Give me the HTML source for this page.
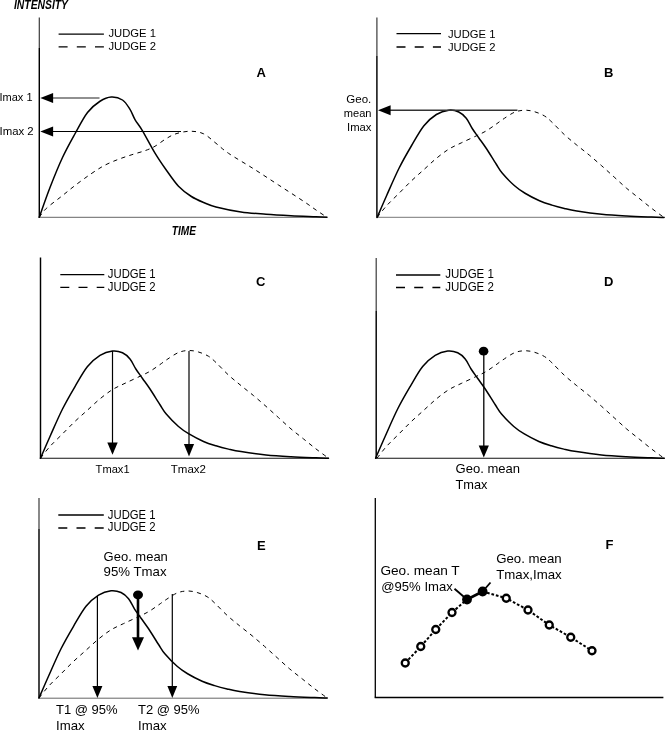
<!DOCTYPE html>
<html><head><meta charset="utf-8"><title>Figure</title>
<style>
html,body{margin:0;padding:0;background:#fff;}
body{width:665px;height:730px;overflow:hidden;}
svg{display:block;}
.t{font-family:"Liberation Sans",sans-serif;font-size:11.8px;fill:#000;}
.u{font-family:"Liberation Sans",sans-serif;font-size:13px;fill:#000;}
.b{font-family:"Liberation Sans",sans-serif;font-size:13px;font-weight:bold;fill:#000;}
.bi{font-family:"Liberation Sans",sans-serif;font-size:12.5px;font-weight:bold;font-style:italic;fill:#000;}
.ax{stroke:#111;stroke-width:1.3;fill:none;}
.lg{stroke:#000;stroke-width:1.3;fill:none;}
.sc{stroke:#000;stroke-width:1.5;fill:none;stroke-linecap:round;stroke-linejoin:round;}
.dc{stroke:#000;stroke-width:1.0;fill:none;stroke-dasharray:4.2 4.3;}
.fd{stroke:#000;stroke-width:2;fill:none;stroke-dasharray:2.7 1.9;}
.oc{stroke:#000;stroke-width:2.3;fill:#fff;}
</style></head><body>
<svg width="665" height="730" viewBox="0 0 665 730">
<rect width="665" height="730" fill="#fff"/>
<text x="14" y="9" class="bi" textLength="54" lengthAdjust="spacingAndGlyphs">INTENSITY</text>
<path d="M39.3 17.4 V48" stroke="#3a3a3a" stroke-width="1.2" fill="none"/>
<path d="M39.3 48 V217.3" stroke="#000" stroke-width="1.45" fill="none"/>
<path d="M38.574999999999996 217.3 H327" stroke="#666" stroke-width="1.0" fill="none"/>
<path d="M58.6 34.2 H103.9" class="lg"/>
<path d="M58.6 46.8 H103.9" class="lg" stroke-dasharray="9 9.2"/>
<text x="108.4" y="37.2" class="t" style="font-size:11.8px" textLength="47.6" lengthAdjust="spacingAndGlyphs">JUDGE 1</text>
<text x="108.4" y="50.3" class="t" style="font-size:11.8px" textLength="47.6" lengthAdjust="spacingAndGlyphs">JUDGE 2</text>
<path d="M39.25 217.30 C41.04 212.33 46.12 197.47 50.00 187.50 C53.88 177.53 58.33 166.46 62.50 157.50 C66.67 148.54 70.83 141.25 75.00 133.75 C79.17 126.25 83.33 117.92 87.50 112.50 C91.67 107.08 96.04 103.83 100.00 101.25 C103.96 98.67 107.50 97.21 111.25 97.00 C115.00 96.79 119.38 97.93 122.50 100.00 C125.62 102.07 127.92 106.13 130.00 109.40 C132.08 112.67 132.92 116.03 135.00 119.60 C137.08 123.17 139.17 125.22 142.50 130.80 C145.83 136.38 151.04 146.57 155.00 153.10 C158.96 159.63 162.33 164.47 166.25 170.00 C170.17 175.53 174.38 181.88 178.50 186.25 C182.62 190.62 186.83 193.54 191.00 196.25 C195.17 198.96 199.33 200.71 203.50 202.50 C207.67 204.29 209.75 205.42 216.00 207.00 C222.25 208.58 232.67 210.79 241.00 212.00 C249.33 213.21 257.67 213.62 266.00 214.25 C274.33 214.88 282.67 215.32 291.00 215.75 C299.33 216.18 310.00 216.54 316.00 216.80 C322.00 217.06 325.17 217.22 327.00 217.30" class="sc"/>
<path d="M39.25 217.30 C40.42 215.82 42.56 211.92 46.30 208.40 C50.04 204.88 56.85 200.07 61.70 196.20 C66.55 192.33 70.55 188.90 75.40 185.20 C80.25 181.50 85.95 177.30 90.80 174.00 C95.65 170.70 99.93 167.83 104.50 165.40 C109.07 162.97 113.63 161.18 118.20 159.40 C122.77 157.62 127.35 156.18 131.90 154.70 C136.45 153.22 141.65 151.91 145.50 150.50 C149.35 149.09 151.58 148.21 155.00 146.25 C158.42 144.29 162.50 140.83 166.00 138.75 C169.50 136.67 172.00 135.00 176.00 133.75 C180.00 132.50 185.42 131.25 190.00 131.25 C194.58 131.25 199.17 131.74 203.50 133.75 C207.83 135.76 211.83 140.04 216.00 143.30 C220.17 146.56 222.25 149.06 228.50 153.30 C234.75 157.54 245.17 163.47 253.50 168.75 C261.83 174.03 270.17 179.58 278.50 185.00 C286.83 190.42 297.25 197.08 303.50 201.25 C309.75 205.42 312.08 207.32 316.00 210.00 C319.92 212.68 325.17 216.08 327.00 217.30" class="dc"/>
<path d="M99.5 98 H52.099999999999994" stroke="#222" stroke-width="1.1" fill="none"/>
<path d="M53.099999999999994 92.9 V103.1 L40.3 98 Z" fill="#000"/>
<path d="M181 131.5 H52.099999999999994" stroke="#000" stroke-width="1.1" fill="none"/>
<path d="M53.099999999999994 126.4 V136.6 L40.3 131.5 Z" fill="#000"/>
<text x="-0.5" y="101.3" class="t" textLength="33" lengthAdjust="spacingAndGlyphs">Imax 1</text>
<text x="-0.5" y="135.3" class="t" textLength="34.2" lengthAdjust="spacingAndGlyphs">Imax 2</text>
<text x="256.5" y="76.8" class="b">A</text>
<text x="171.8" y="234.8" class="bi" textLength="24.2" lengthAdjust="spacingAndGlyphs">TIME</text>
<path d="M376.9 17.5 V56" stroke="#3a3a3a" stroke-width="1.2" fill="none"/>
<path d="M376.9 56 V217.3" stroke="#000" stroke-width="1.45" fill="none"/>
<path d="M376.17499999999995 217.3 H665" stroke="#777" stroke-width="1.0" fill="none"/>
<path d="M396.5 33.7 H441" class="lg"/>
<path d="M396.5 47 H441" class="lg" stroke-dasharray="9 9.2"/>
<text x="448" y="37.5" class="t" style="font-size:11.8px" textLength="47.5" lengthAdjust="spacingAndGlyphs">JUDGE 1</text>
<text x="448" y="50.6" class="t" style="font-size:11.8px" textLength="47.5" lengthAdjust="spacingAndGlyphs">JUDGE 2</text>
<path d="M377.10 217.50 C378.68 213.88 382.91 203.96 386.56 195.75 C390.22 187.54 394.87 176.58 399.02 168.25 C403.17 159.92 407.32 152.83 411.47 145.75 C415.62 138.67 419.77 130.96 423.92 125.75 C428.07 120.54 432.22 117.09 436.37 114.50 C440.52 111.91 445.09 110.62 448.83 110.20 C452.56 109.78 455.88 110.66 458.79 112.00 C461.69 113.34 464.02 115.50 466.26 118.25 C468.50 121.00 470.16 125.26 472.24 128.50 C474.31 131.74 476.39 134.41 478.71 137.70 C481.03 140.99 483.28 143.87 486.18 148.25 C489.09 152.63 493.45 159.83 496.14 164.00 C498.84 168.17 499.30 169.62 502.37 173.25 C505.44 176.88 510.80 182.42 514.57 185.75 C518.35 189.08 520.88 190.75 525.03 193.25 C529.18 195.75 534.99 198.78 539.48 200.75 C543.96 202.72 547.78 203.83 551.93 205.10 C556.08 206.38 560.23 207.43 564.38 208.40 C568.53 209.37 570.61 209.93 576.83 210.90 C583.06 211.87 593.44 213.35 601.74 214.20 C610.04 215.05 618.34 215.52 626.64 216.00 C634.94 216.48 645.32 216.85 651.55 217.10 C657.77 217.35 661.92 217.43 664.00 217.50" class="sc"/>
<path d="M377.10 217.50 C378.68 215.55 382.91 209.81 386.56 205.77 C390.22 201.74 394.87 197.45 399.02 193.30 C403.17 189.14 407.32 184.77 411.47 180.82 C415.62 176.87 419.77 173.33 423.92 169.59 C428.07 165.85 432.22 161.77 436.37 158.36 C440.52 154.95 444.67 151.71 448.83 149.13 C452.98 146.55 456.71 145.09 461.28 142.89 C465.84 140.68 472.07 137.90 476.22 135.90 C480.37 133.91 482.86 132.87 486.18 130.91 C489.50 128.96 493.45 126.05 496.14 124.17 C498.84 122.30 499.30 121.68 502.37 119.68 C505.44 117.69 510.80 113.78 514.57 112.20 C518.35 110.62 521.71 110.28 525.03 110.20 C528.35 110.12 531.26 110.74 534.50 111.70 C537.73 112.65 541.55 114.19 544.46 115.94 C547.36 117.69 548.61 119.06 551.93 122.18 C555.25 125.30 560.23 130.83 564.38 134.65 C568.53 138.48 572.68 141.72 576.83 145.13 C580.98 148.55 585.14 151.66 589.29 155.12 C593.44 158.57 597.59 162.19 601.74 165.85 C605.89 169.51 610.04 173.33 614.19 177.08 C618.34 180.82 622.49 184.77 626.64 188.30 C630.79 191.84 634.94 194.96 639.10 198.29 C643.25 201.61 647.40 205.06 651.55 208.27 C655.70 211.47 661.92 215.96 664.00 217.50" class="dc"/>
<path d="M517.5 110.25 H389.6" stroke="#333" stroke-width="1.3" fill="none"/>
<path d="M390.6 105.25 V115.25 L378 110.25 Z" fill="#000"/>
<text x="346.3" y="103" class="t" textLength="25" lengthAdjust="spacingAndGlyphs">Geo.</text>
<text x="343.75" y="117" class="t" textLength="27.75" lengthAdjust="spacingAndGlyphs">mean</text>
<text x="347" y="131" class="t" textLength="24.5" lengthAdjust="spacingAndGlyphs">Imax</text>
<text x="604" y="76.7" class="b">B</text>
<path d="M40.5 257.5 V458.3" stroke="#000" stroke-width="1.45" fill="none"/>
<path d="M39.775 458.3 H328.9" stroke="#111" stroke-width="1.1" fill="none"/>
<path d="M60.3 274.7 H104.3" class="lg"/>
<path d="M60.3 287.3 H104.3" class="lg" stroke-dasharray="9 9.2"/>
<text x="107.8" y="278.3" class="t" style="font-size:12px" textLength="47.8" lengthAdjust="spacingAndGlyphs">JUDGE 1</text>
<text x="107.8" y="290.8" class="t" style="font-size:12px" textLength="47.8" lengthAdjust="spacingAndGlyphs">JUDGE 2</text>
<path d="M40.50 458.20 C42.08 454.58 46.33 444.67 50.00 436.47 C53.67 428.27 58.33 417.32 62.50 409.00 C66.67 400.67 70.83 393.59 75.00 386.52 C79.17 379.44 83.33 371.74 87.50 366.54 C91.67 361.33 95.83 357.89 100.00 355.30 C104.17 352.71 108.75 351.42 112.50 351.00 C116.25 350.58 119.58 351.46 122.50 352.80 C125.42 354.14 127.75 356.30 130.00 359.04 C132.25 361.79 133.92 366.04 136.00 369.28 C138.08 372.52 140.17 375.19 142.50 378.47 C144.83 381.76 147.08 384.64 150.00 389.01 C152.92 393.39 157.29 400.59 160.00 404.75 C162.71 408.91 163.17 410.37 166.25 413.99 C169.33 417.61 174.71 423.15 178.50 426.48 C182.29 429.81 184.83 431.47 189.00 433.97 C193.17 436.47 199.00 439.49 203.50 441.47 C208.00 443.44 211.83 444.54 216.00 445.81 C220.17 447.09 224.33 448.14 228.50 449.11 C232.67 450.07 234.75 450.64 241.00 451.61 C247.25 452.57 257.67 454.05 266.00 454.90 C274.33 455.75 282.67 456.22 291.00 456.70 C299.33 457.18 309.75 457.55 316.00 457.80 C322.25 458.05 326.42 458.13 328.50 458.20" class="sc"/>
<path d="M40.50 458.20 C42.08 456.24 46.33 450.48 50.00 446.43 C53.67 442.38 58.33 438.08 62.50 433.90 C66.67 429.73 70.83 425.35 75.00 421.38 C79.17 417.42 83.33 413.87 87.50 410.11 C91.67 406.35 95.83 402.26 100.00 398.84 C104.17 395.42 108.33 392.16 112.50 389.57 C116.67 386.98 120.42 385.52 125.00 383.31 C129.58 381.10 135.83 378.30 140.00 376.30 C144.17 374.29 146.67 373.25 150.00 371.29 C153.33 369.33 157.29 366.40 160.00 364.53 C162.71 362.65 163.17 362.02 166.25 360.02 C169.33 358.01 174.71 354.09 178.50 352.50 C182.29 350.92 185.67 350.58 189.00 350.50 C192.33 350.42 195.25 351.04 198.50 352.00 C201.75 352.96 205.58 354.51 208.50 356.26 C211.42 358.01 212.67 359.39 216.00 362.52 C219.33 365.65 224.33 371.21 228.50 375.05 C232.67 378.89 236.83 382.14 241.00 385.57 C245.17 388.99 249.33 392.12 253.50 395.58 C257.67 399.05 261.83 402.68 266.00 406.35 C270.17 410.03 274.33 413.87 278.50 417.62 C282.67 421.38 286.83 425.35 291.00 428.90 C295.17 432.44 299.33 435.57 303.50 438.91 C307.67 442.25 311.83 445.72 316.00 448.93 C320.17 452.15 326.42 456.66 328.50 458.20" class="dc"/>
<path d="M112.5 351 V443.40000000000003" stroke="#000" stroke-width="1.2" fill="none"/>
<path d="M107.3 442.40000000000003 H117.7 L112.5 454.8 Z" fill="#000"/>
<path d="M189 351 V445.0" stroke="#000" stroke-width="1.2" fill="none"/>
<path d="M183.9 444.0 H194.1 L189 456.4 Z" fill="#000"/>
<text x="95.6" y="472.7" class="t" textLength="34" lengthAdjust="spacingAndGlyphs">Tmax1</text>
<text x="170.8" y="472.7" class="t" textLength="35.2" lengthAdjust="spacingAndGlyphs">Tmax2</text>
<text x="256" y="286" class="b">C</text>
<path d="M376.2 258 V311" stroke="#3a3a3a" stroke-width="1.2" fill="none"/>
<path d="M376.2 311 V458.3" stroke="#000" stroke-width="1.45" fill="none"/>
<path d="M375.47499999999997 458.3 H665" stroke="#111" stroke-width="1.1" fill="none"/>
<path d="M396 275 H440.3" class="lg"/>
<path d="M396 287.5 H440.3" class="lg" stroke-dasharray="9 9.2"/>
<text x="445.3" y="278.4" class="t" style="font-size:12.4px" textLength="48.6" lengthAdjust="spacingAndGlyphs">JUDGE 1</text>
<text x="445.3" y="290.9" class="t" style="font-size:12.4px" textLength="48.6" lengthAdjust="spacingAndGlyphs">JUDGE 2</text>
<path d="M375.60 458.20 C377.19 454.58 381.44 444.67 385.11 436.47 C388.78 428.27 393.46 417.32 397.63 409.00 C401.80 400.67 405.98 393.59 410.15 386.52 C414.32 379.44 418.49 371.74 422.67 366.54 C426.84 361.33 431.01 357.89 435.18 355.30 C439.36 352.71 443.94 351.42 447.70 351.00 C451.46 350.58 454.79 351.46 457.71 352.80 C460.63 354.14 462.97 356.30 465.22 359.04 C467.48 361.79 469.15 366.04 471.23 369.28 C473.32 372.52 475.41 375.19 477.74 378.47 C480.08 381.76 482.33 384.64 485.25 389.01 C488.17 393.39 492.55 400.59 495.27 404.75 C497.98 408.91 498.44 410.37 501.52 413.99 C504.61 417.61 509.99 423.15 513.79 426.48 C517.59 429.81 520.13 431.47 524.31 433.97 C528.48 436.47 534.32 439.49 538.83 441.47 C543.33 443.44 547.17 444.54 551.34 445.81 C555.52 447.09 559.69 448.14 563.86 449.11 C568.03 450.07 570.12 450.64 576.38 451.61 C582.64 452.57 593.07 454.05 601.41 454.90 C609.76 455.75 618.10 456.22 626.45 456.70 C634.79 457.18 645.22 457.55 651.48 457.80 C657.74 458.05 661.91 458.13 664.00 458.20" class="sc"/>
<path d="M377.00 458.20 C378.58 456.24 382.81 450.50 386.47 446.46 C390.12 442.42 394.77 438.13 398.92 433.96 C403.08 429.80 407.23 425.42 411.38 421.47 C415.53 417.51 419.68 413.97 423.84 410.22 C427.99 406.47 432.14 402.39 436.29 398.98 C440.45 395.56 444.60 392.31 448.75 389.73 C452.90 387.15 456.64 385.69 461.21 383.48 C465.77 381.28 472.00 378.49 476.15 376.49 C480.31 374.49 482.80 373.45 486.12 371.49 C489.44 369.53 493.39 366.62 496.09 364.74 C498.78 362.87 499.24 362.24 502.31 360.25 C505.39 358.25 510.74 354.33 514.52 352.75 C518.30 351.17 521.66 350.83 524.98 350.75 C528.31 350.67 531.21 351.29 534.45 352.25 C537.69 353.21 541.51 354.75 544.42 356.50 C547.32 358.25 548.57 359.62 551.89 362.74 C555.21 365.87 560.20 371.41 564.35 375.24 C568.50 379.07 572.65 382.32 576.80 385.73 C580.96 389.15 585.11 392.27 589.26 395.73 C593.41 399.19 597.56 402.81 601.72 406.47 C605.87 410.14 610.02 413.97 614.17 417.72 C618.33 421.47 622.48 425.42 626.63 428.96 C630.78 432.50 634.93 435.63 639.09 438.96 C643.24 442.29 647.39 445.75 651.54 448.95 C655.70 452.16 661.92 456.66 664.00 458.20" class="dc"/>
<path d="M483.8 351 V446.40000000000003" stroke="#000" stroke-width="1.3" fill="none"/>
<path d="M478.7 445.40000000000003 H488.90000000000003 L483.8 457.6 Z" fill="#000"/>
<ellipse cx="483.6" cy="351.2" rx="4.8" ry="4.4" fill="#000"/>
<text x="455.5" y="473" class="u" textLength="64.5" lengthAdjust="spacingAndGlyphs">Geo. mean</text>
<text x="455.5" y="489" class="u" textLength="32" lengthAdjust="spacingAndGlyphs">Tmax</text>
<text x="604" y="286" class="b">D</text>
<path d="M39.0 498 V529" stroke="#3a3a3a" stroke-width="1.2" fill="none"/>
<path d="M39.0 529 V698.2" stroke="#000" stroke-width="1.45" fill="none"/>
<path d="M38.275 698.2 H327.5" stroke="#666" stroke-width="1.0" fill="none"/>
<path d="M58.3 515 H103.8" class="lg"/>
<path d="M58.3 528 H103.8" class="lg" stroke-dasharray="9 9.2"/>
<text x="107.8" y="518.5" class="t" style="font-size:12.2px" textLength="47.8" lengthAdjust="spacingAndGlyphs">JUDGE 1</text>
<text x="107.8" y="530.8" class="t" style="font-size:12.2px" textLength="47.8" lengthAdjust="spacingAndGlyphs">JUDGE 2</text>
<path d="M39.00 698.00 C40.58 694.38 44.84 684.46 48.51 676.26 C52.18 668.06 56.85 657.10 61.02 648.77 C65.18 640.44 69.35 633.36 73.52 626.28 C77.69 619.20 81.86 611.50 86.03 606.29 C90.20 601.09 94.37 597.64 98.54 595.05 C102.71 592.46 107.30 591.17 111.05 590.75 C114.80 590.33 118.14 591.21 121.06 592.55 C123.98 593.89 126.31 596.05 128.56 598.80 C130.81 601.54 132.48 605.80 134.57 609.04 C136.65 612.28 138.74 614.95 141.07 618.24 C143.41 621.53 145.66 624.40 148.58 628.78 C151.49 633.16 155.87 640.36 158.58 644.52 C161.29 648.69 161.75 650.15 164.84 653.77 C167.92 657.39 173.30 662.93 177.10 666.26 C180.89 669.60 183.43 671.26 187.60 673.76 C191.77 676.26 197.61 679.28 202.11 681.26 C206.62 683.23 210.45 684.33 214.62 685.61 C218.79 686.88 222.96 687.94 227.13 688.90 C231.30 689.87 233.38 690.44 239.64 691.40 C245.89 692.37 256.32 693.85 264.66 694.70 C273.00 695.55 281.33 696.02 289.67 696.50 C298.01 696.98 308.44 697.35 314.69 697.60 C320.95 697.85 325.12 697.93 327.20 698.00" class="sc"/>
<path d="M39.00 698.00 C40.58 696.05 44.84 690.33 48.51 686.30 C52.18 682.28 56.85 678.01 61.02 673.86 C65.18 669.72 69.35 665.36 73.52 661.42 C77.69 657.48 81.86 653.96 86.03 650.22 C90.20 646.49 94.37 642.43 98.54 639.03 C102.71 635.62 106.88 632.39 111.05 629.82 C115.22 627.25 118.97 625.80 123.56 623.60 C128.15 621.40 134.40 618.62 138.57 616.63 C142.74 614.64 145.24 613.60 148.58 611.65 C151.91 609.70 155.87 606.80 158.58 604.93 C161.29 603.07 161.75 602.45 164.84 600.46 C167.92 598.47 173.30 594.57 177.10 592.99 C180.89 591.41 184.27 591.08 187.60 591.00 C190.94 590.92 193.86 591.54 197.11 592.49 C200.36 593.45 204.20 594.98 207.12 596.72 C210.04 598.47 211.29 599.83 214.62 602.94 C217.96 606.05 222.96 611.57 227.13 615.39 C231.30 619.20 235.47 622.44 239.64 625.84 C243.81 629.24 247.98 632.35 252.15 635.79 C256.32 639.23 260.49 642.84 264.66 646.49 C268.83 650.14 273.00 653.96 277.17 657.69 C281.33 661.42 285.50 665.36 289.67 668.89 C293.84 672.41 298.01 675.52 302.18 678.84 C306.35 682.16 310.52 685.60 314.69 688.79 C318.86 691.99 325.12 696.47 327.20 698.00" class="dc"/>
<path d="M97.4 596 V687" stroke="#000" stroke-width="1.2" fill="none"/>
<path d="M92.4 686 H102.4 L97.4 698 Z" fill="#000"/>
<path d="M172.3 594 V687" stroke="#000" stroke-width="1.2" fill="none"/>
<path d="M167.4 686 H177.20000000000002 L172.3 698 Z" fill="#000"/>
<path d="M138 595 V638.3" stroke="#000" stroke-width="2.6" fill="none"/>
<path d="M132 637.3 H144 L138 650.5 Z" fill="#000"/>
<ellipse cx="138" cy="594.8" rx="5" ry="4.4" fill="#000"/>
<text x="103.6" y="561" class="u" textLength="64.25" lengthAdjust="spacingAndGlyphs">Geo. mean</text>
<text x="103.6" y="576.25" class="u" textLength="63" lengthAdjust="spacingAndGlyphs">95% Tmax</text>
<text x="56" y="713.5" class="u" textLength="61.6" lengthAdjust="spacingAndGlyphs">T1 @ 95%</text>
<text x="56" y="729.6" class="u" textLength="28.6" lengthAdjust="spacingAndGlyphs">Imax</text>
<text x="138" y="713.5" class="u" textLength="61.6" lengthAdjust="spacingAndGlyphs">T2 @ 95%</text>
<text x="138" y="729.6" class="u" textLength="28.6" lengthAdjust="spacingAndGlyphs">Imax</text>
<text x="257" y="549.5" class="b">E</text>
<path d="M375.3 498 V697.5" stroke="#000" stroke-width="1.3" fill="none"/>
<path d="M374.65000000000003 697.5 H663.4" stroke="#000" stroke-width="1.6" fill="none"/>
<path d="M405.25 663.00 L420.75 646.50 L435.75 629.50 L452.00 612.50 L467.00 599.50" class="fd"/>
<path d="M482.60 591.50 L506.25 598.25 L528.00 610.00 L549.25 625.00 L570.75 637.25 L592.00 650.75" class="fd"/>
<path d="M467 599.5 L482.6 591.5" stroke="#000" stroke-width="2.6" fill="none"/>
<path d="M454.5 588.75 L467 599.5" stroke="#000" stroke-width="1.8" fill="none"/>
<path d="M482.6 591.5 L490.5 582.5" stroke="#000" stroke-width="1.8" fill="none"/>
<circle cx="405.25" cy="663" r="3.5" class="oc"/>
<circle cx="420.75" cy="646.5" r="3.5" class="oc"/>
<circle cx="435.75" cy="629.5" r="3.5" class="oc"/>
<circle cx="452" cy="612.5" r="3.5" class="oc"/>
<circle cx="506.25" cy="598.25" r="3.5" class="oc"/>
<circle cx="528" cy="610" r="3.5" class="oc"/>
<circle cx="549.25" cy="625" r="3.5" class="oc"/>
<circle cx="570.75" cy="637.25" r="3.5" class="oc"/>
<circle cx="592" cy="650.75" r="3.5" class="oc"/>
<circle cx="467" cy="599.5" r="4.9" fill="#000"/>
<circle cx="482.6" cy="591.5" r="4.9" fill="#000"/>
<text x="380.4" y="575.2" class="u" textLength="79.3" lengthAdjust="spacingAndGlyphs">Geo. mean T</text>
<text x="381.25" y="591.25" class="u" textLength="71.5" lengthAdjust="spacingAndGlyphs">@95% Imax</text>
<text x="496.2" y="563" class="u" textLength="65.5" lengthAdjust="spacingAndGlyphs">Geo. mean</text>
<text x="496.2" y="579.25" class="u" textLength="65.5" lengthAdjust="spacingAndGlyphs">Tmax,Imax</text>
<text x="605.5" y="549.25" class="b">F</text>
</svg>
</body></html>
